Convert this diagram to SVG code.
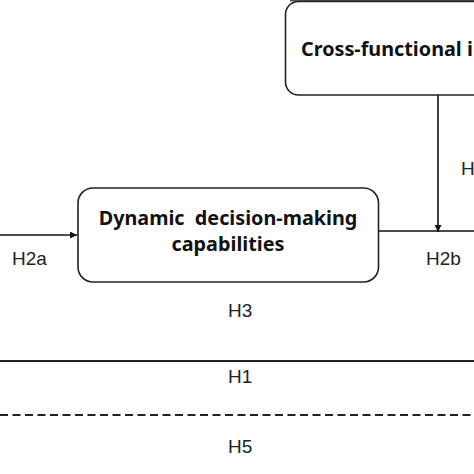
<svg xmlns="http://www.w3.org/2000/svg" width="474" height="474" viewBox="0 0 474 474">
<defs>
<style>
.box{fill:#fff;stroke:#222;stroke-width:1.6}
.ttl{font-family:"Noto Sans","Liberation Sans",sans-serif;font-weight:bold;font-size:19.8px;fill:#111}
.lbl{font-family:"Liberation Sans",Arial,sans-serif;font-size:19px;fill:#222}
.ln{stroke:#111;stroke-width:1.6;fill:none}
</style>
<marker id="ah" viewBox="0 0 10 10" refX="10" refY="5" markerWidth="7" markerHeight="7" markerUnits="userSpaceOnUse" orient="auto">
<path d="M0,0 L10,5 L0,10 z" fill="#111"/>
</marker>
</defs>
<rect x="0" y="0" width="474" height="474" fill="#fff"/>
<rect x="290" y="0" width="184" height="1.5" fill="#555"/>
<g id="connectors">
<line class="ln" x1="0" y1="235" x2="77" y2="235" marker-end="url(#ah)"/>
<line class="ln" x1="379" y1="231" x2="474" y2="231"/>
<line class="ln" x1="438" y1="95" x2="438" y2="232" marker-end="url(#ah)"/>
<line x1="0" y1="361" x2="474" y2="361" stroke="#222" stroke-width="2.2"/>
<line x1="0" y1="415" x2="474" y2="415" stroke="#222" stroke-width="2" stroke-dasharray="8,4.5"/>
<text class="lbl" x="12" y="265">H2a</text>
<text class="lbl" x="426" y="265">H2b</text>
<text class="lbl" x="461" y="175">H</text>
<text class="lbl" x="228" y="317">H3</text>
<text class="lbl" x="228" y="383">H1</text>
<text class="lbl" x="228" y="453">H5</text>
</g>
<g id="cross-functional">
<rect class="box" x="285.5" y="1.5" width="210" height="93.5" rx="13"/>
<text class="ttl" x="301" y="56">Cross-functional i</text>
</g>
<g id="dynamic">
<rect class="box" x="78" y="188" width="300.5" height="94" rx="15"/>
<text class="ttl" x="228" y="225" text-anchor="middle" xml:space="preserve">Dynamic  decision-making</text>
<text class="ttl" x="228" y="251" text-anchor="middle">capabilities</text>
</g>
</svg>
